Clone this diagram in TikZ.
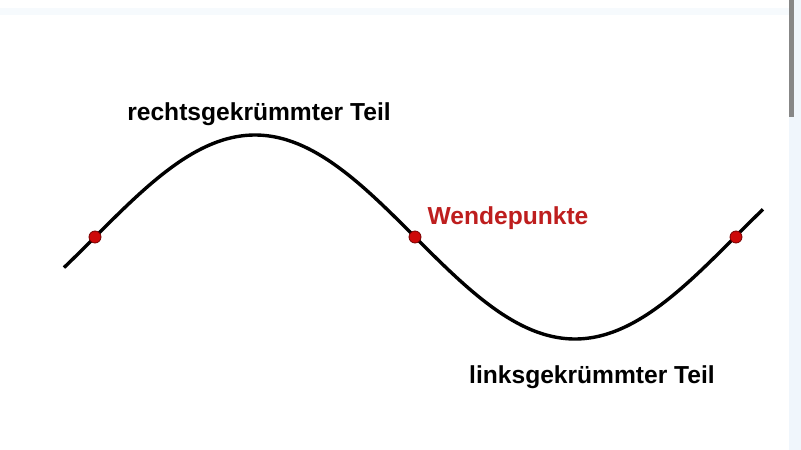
\documentclass[tikz,border=0pt]{standalone}
\usepackage{fontspec}
\setmainfont{Liberation Sans}
\definecolor{dotred}{RGB}{205,10,10}
\definecolor{dotedge}{RGB}{120,0,0}
\definecolor{labelred}{RGB}{190,30,30}
\definecolor{bandblue}{RGB}{246,250,253}
\definecolor{stripblue}{RGB}{240,246,252}
\definecolor{scrollgray}{RGB}{135,135,135}
\tikzset{
  curve/.style={line width=3.4pt, black},
  wp/.style={circle, fill=dotred, draw=dotedge, line width=0.8pt, minimum size=12pt, inner sep=0pt},
  lbl/.style={font=\bfseries\fontsize{24.6}{28}\selectfont, inner sep=0pt},
}
\begin{document}
\begin{tikzpicture}[x=1pt,y=-1pt]
\useasboundingbox (0,0) rectangle (801,450);
\fill[white] (0,0) rectangle (801,450);
\fill[bandblue] (0,8) rectangle (801,15);
\fill[stripblue] (789,0) rectangle (801,450);
\fill[scrollgray] (789,0) rectangle (794,117);
\draw[curve] plot[domain=64:763, samples=240] (\x, {237-102*sin((\x-95)*0.5625)});
\node[wp] (p1) at (95,237) {};
\node[wp] (p2) at (415,237) {};
\node[wp] (p3) at (736,237) {};
\node[lbl] (r) at (259,114) {rechtsgekrümmter Teil};
\node[lbl] (l) at (592,377) {linksgekrümmter Teil};
\node[lbl, text=labelred] (w) at (508,218) {Wendepunkte};
\end{tikzpicture}
\end{document}
